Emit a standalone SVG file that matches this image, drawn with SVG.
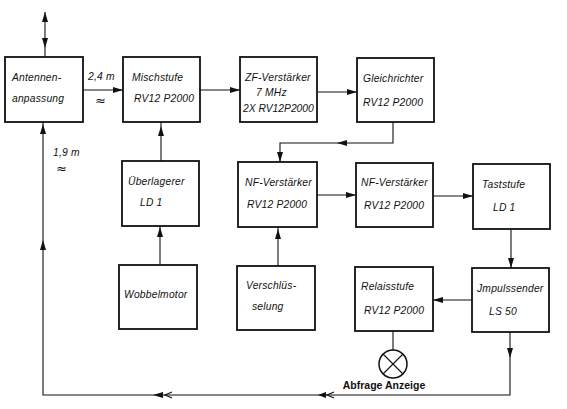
<svg xmlns="http://www.w3.org/2000/svg" width="567" height="409" viewBox="0 0 567 409">
<defs>
<marker id="ah" viewBox="0 0 10 6" refX="10" refY="3" markerWidth="10" markerHeight="6" markerUnits="userSpaceOnUse" orient="auto">
<path d="M0,0 L10,3 L0,6 Z" fill="#111"/>
</marker>
</defs>
<style>
.box{fill:#fff;stroke:#111;stroke-width:1.8}
.ln{fill:none;stroke:#111;stroke-width:1.1}
.t{font-family:"Liberation Sans",Arial,sans-serif;font-style:italic;font-size:10.3px;fill:#111;letter-spacing:0.2px}
.w{font-family:"DejaVu Sans",sans-serif;font-size:13px;fill:#111}
.s{font-family:"Liberation Sans",Arial,sans-serif;font-size:10.5px;fill:#111;font-weight:bold}
.a{fill:#111;stroke:none}
</style>
<rect width="567" height="409" fill="#fff"/>
<g id="connectors">
<line class="ln" x1="45" y1="12" x2="45" y2="57"/>
<path class="a" d="M45,12 L42,22 L48,22 Z"/>
<path class="a" d="M45,48 L42,38 L48,38 Z"/>
<line class="ln" x1="83" y1="90" x2="123" y2="90" marker-end="url(#ah)"/>
<line class="ln" x1="200" y1="90" x2="240" y2="90" marker-end="url(#ah)"/>
<line class="ln" x1="317" y1="92" x2="357" y2="92" marker-end="url(#ah)"/>
<path class="ln" d="M393,122 V143 H280 V162"/>
<path class="a" d="M337,143 L347,140 L347,146 Z"/>
<path class="a" d="M280,162 L277,152 L283,152 Z"/>
<line class="ln" x1="161" y1="161" x2="161" y2="122"/>
<path class="a" d="M161,126 L158,136 L164,136 Z"/>
<line class="ln" x1="160" y1="265" x2="160" y2="226"/>
<path class="a" d="M160,227 L157,237 L163,237 Z"/>
<line class="ln" x1="278" y1="266" x2="278" y2="227"/>
<path class="a" d="M278,229 L275,239 L281,239 Z"/>
<line class="ln" x1="317" y1="195" x2="356" y2="195" marker-end="url(#ah)"/>
<line class="ln" x1="433" y1="196" x2="473" y2="196" marker-end="url(#ah)"/>
<line class="ln" x1="511" y1="229" x2="511" y2="268" marker-end="url(#ah)"/>
<line class="ln" x1="472" y1="300" x2="433" y2="300" marker-end="url(#ah)"/>
<line class="ln" x1="393" y1="331" x2="393" y2="350"/>
<path class="ln" d="M510,332 V395 H43 V122"/>
<path class="a" d="M510,358 L507,348 L513,348 Z"/>
<path class="a" d="M153,395 L163,392 L163,398 Z"/>
<path class="ln" d="M172,392 L165,395 L172,398"/>
<path class="a" d="M318,395 L326,392 L326,398 Z"/>
<path class="ln" d="M334,392 L327,395 L334,398"/>
<path class="a" d="M43,124 L40,134 L46,134 Z"/>
<path class="a" d="M43,240 L40,250 L46,250 Z"/>
</g>
<g id="labels">
<text class="t" x="88" y="80">2,4 m</text>
<text class="w" x="95" y="105">≈</text>
<text class="t" x="53" y="156">1,9 m</text>
<text class="w" x="56" y="173">≈</text>
</g>
<g id="antennen"><rect class="box" x="5" y="57" width="78" height="65"/><text class="t" x="12" y="81">Antennen-</text><text class="t" x="12" y="102">anpassung</text></g>
<g id="mischstufe"><rect class="box" x="123" y="57" width="77" height="65"/><text class="t" x="132" y="81">Mischstufe</text><text class="t" x="134" y="102">RV12 P2000</text></g>
<g id="zf"><rect class="box" x="240" y="57" width="77" height="65"/><text class="t" x="245" y="81">ZF-Verstärker</text><text class="t" x="256" y="96">7 MHz</text><text class="t" x="243" y="112" style="letter-spacing:0">2X RV12P2000</text></g>
<g id="gleichrichter"><rect class="box" x="357" y="58" width="77" height="64"/><text class="t" x="363" y="82">Gleichrichter</text><text class="t" x="363" y="106">RV12 P2000</text></g>
<g id="ueberlagerer"><rect class="box" x="122" y="161" width="77" height="65"/><text class="t" x="128" y="185">Überlagerer</text><text class="t" x="140" y="206">LD 1</text></g>
<g id="nf1"><rect class="box" x="238" y="162" width="79" height="65"/><text class="t" x="245" y="186">NF-Verstärker</text><text class="t" x="247" y="208">RV12 P2000</text></g>
<g id="nf2"><rect class="box" x="356" y="163" width="77" height="64"/><text class="t" x="361" y="186">NF-Verstärker</text><text class="t" x="364" y="209">RV12 P2000</text></g>
<g id="taststufe"><rect class="box" x="473" y="164" width="77" height="65"/><text class="t" x="482" y="188">Taststufe</text><text class="t" x="493" y="211">LD 1</text></g>
<g id="wobbelmotor"><rect class="box" x="119" y="265" width="78" height="64"/><text class="t" x="124" y="298">Wobbelmotor</text></g>
<g id="verschluesselung"><rect class="box" x="237" y="266" width="78" height="64"/><text class="t" x="246" y="289">Verschlüs-</text><text class="t" x="252" y="310">selung</text></g>
<g id="relaisstufe"><rect class="box" x="355" y="267" width="78" height="64"/><text class="t" x="361" y="290">Relaisstufe</text><text class="t" x="364" y="314">RV12 P2000</text></g>
<g id="jmpulssender"><rect class="box" x="472" y="268" width="77" height="64"/><text class="t" x="477" y="292">Jmpulssender</text><text class="t" x="489" y="315">LS 50</text></g>
<g id="anzeige"><circle cx="393" cy="364" r="14" fill="#fff" stroke="#111" stroke-width="1.5"/><path class="ln" d="M383,354 L403,374 M403,354 L383,374" stroke-width="1.3"/><text class="s" x="384" y="389" text-anchor="middle">Abfrage Anzeige</text></g>
</svg>
